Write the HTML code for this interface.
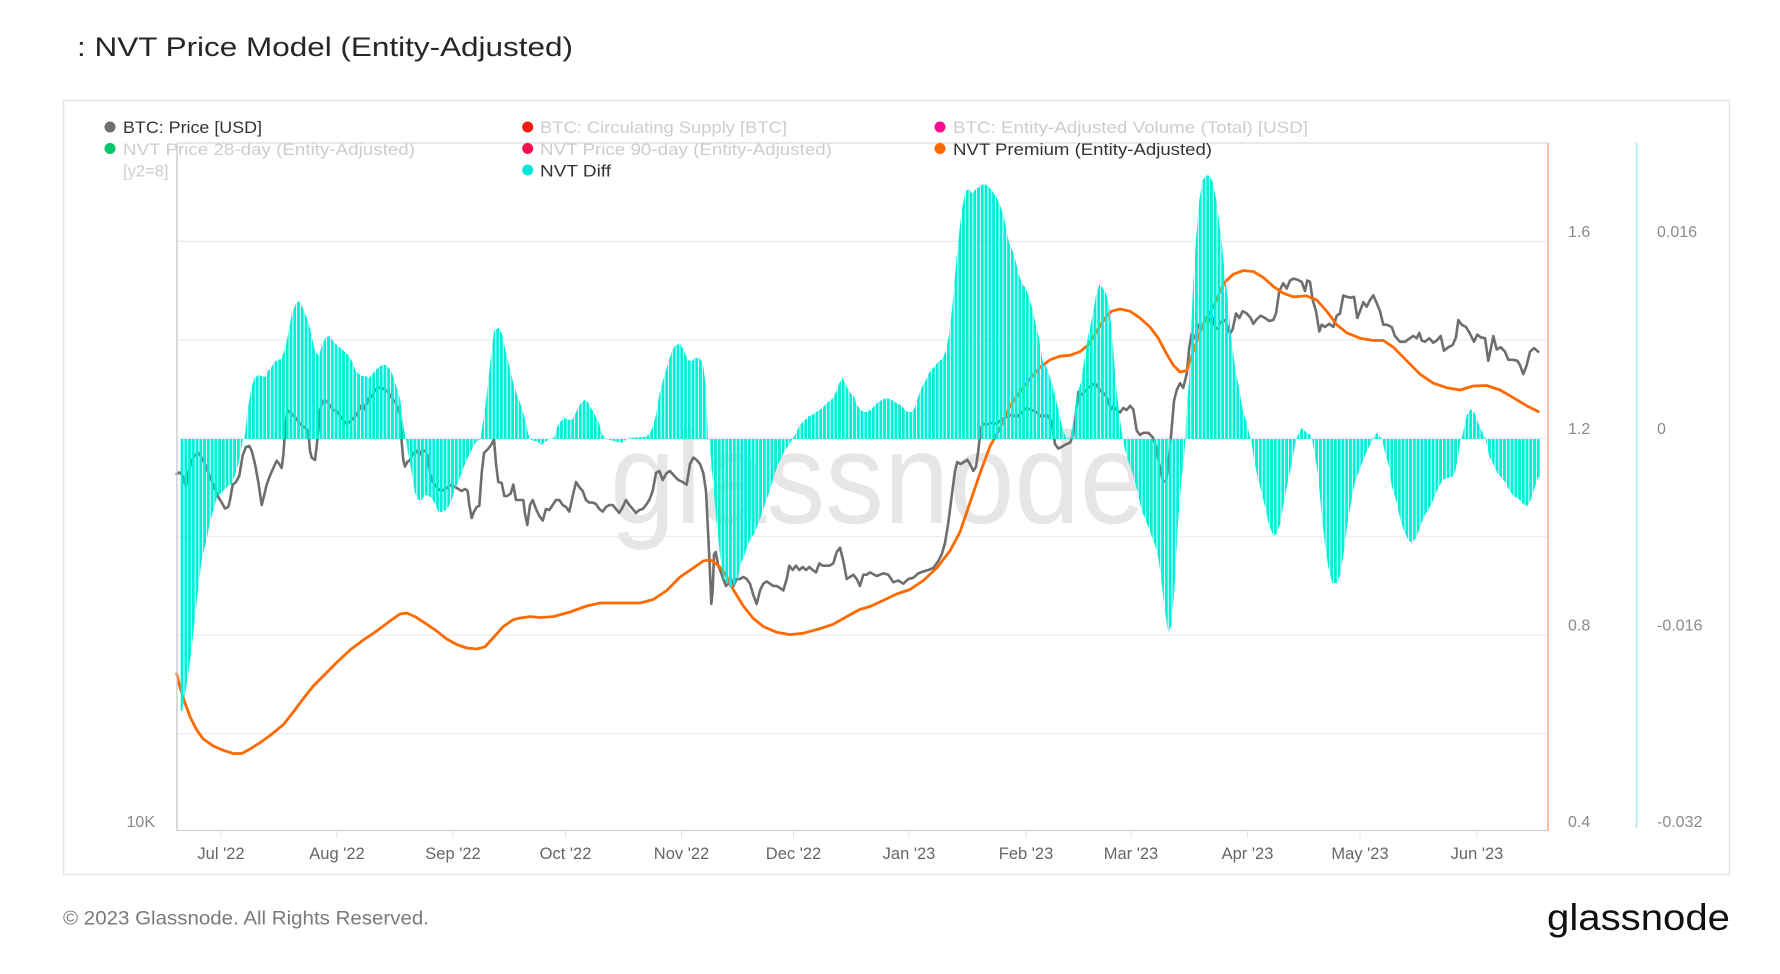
<!DOCTYPE html>
<html>
<head>
<meta charset="utf-8">
<style>
html,body{margin:0;padding:0;background:#fff;}
svg{display:block;}
text{font-family:"Liberation Sans",sans-serif;}
</style>
</head>
<body>
<svg width="1780" height="974" viewBox="0 0 1780 974" xmlns="http://www.w3.org/2000/svg">
<defs>
<pattern id="bp" patternUnits="userSpaceOnUse" x="180.6" y="0" width="3.757" height="974">
<rect x="0" y="0" width="2.85" height="974" fill="#00efd7"/>
</pattern>
</defs>
<rect x="0" y="0" width="1780" height="974" fill="#fff"/>

<!-- title -->
<text x="77" y="56" font-size="27" fill="#262626" textLength="496" lengthAdjust="spacingAndGlyphs">: NVT Price Model (Entity-Adjusted)</text>

<!-- frame -->
<rect x="63.5" y="100.5" width="1666" height="774" fill="none" stroke="#e4e4e4" stroke-width="1.5"/>

<!-- watermark -->
<text x="610" y="523" font-size="130" fill="#e6e6e6" textLength="535" lengthAdjust="spacingAndGlyphs">glassnode</text>

<!-- gridlines -->
<g stroke="#ececec" stroke-width="1.2">
<line x1="177" y1="241.4" x2="1547" y2="241.4"/>
<line x1="177" y1="339.9" x2="1547" y2="339.9"/>
<line x1="177" y1="438.3" x2="1547" y2="438.3"/>
<line x1="177" y1="536.7" x2="1547" y2="536.7"/>
<line x1="177" y1="635.1" x2="1547" y2="635.1"/>
<line x1="177" y1="733.6" x2="1547" y2="733.6"/>
</g>
<line x1="177" y1="143" x2="1548" y2="143" stroke="#dcdcdc" stroke-width="1.2"/>

<!-- price line -->
<polyline fill="none" stroke="#6e6e6e" stroke-width="2.6" stroke-linejoin="round" stroke-linecap="round" points="176.7,474 179.3,472.4 182.7,475.6 186,487 188.3,473 191.7,460.7 195,455 198.3,453 201.7,457.6 205,464 208.3,473 211.7,481 215,489 218.3,496.8 221.7,502.6 225,508.5 228.3,507 230,500 232.7,484.6 236,482 239.3,475.6 242.7,455.3 246,447 249.3,446 251.7,450.8 255,464 258.3,482 261.7,505 264,496 266.7,484.6 270,475.6 273.3,468 276.7,460.7 279.3,464 281.7,468 283.3,455.3 285,432.8 287.3,410 290,412.5 295,417 300,423.8 305,428 308.3,430.5 310,450.8 311.7,457.6 315,460 316.7,446 320,410 322.7,401 326.7,401 330,405.8 333.3,410 336.7,411 340,415.7 343.3,420 346.7,423.8 350,421.5 353.3,418.4 356.7,414.8 360,408 362.7,403.5 365,409.4 368.3,399 371.7,396.8 375,390 378.3,387.7 381.7,387.7 385,390 388.3,392 391.7,397.7 395,402 397.7,408 400,414.8 401.7,441.8 403.3,460 405,466.6 407.3,462 410,460 413.3,453 416.7,450.8 419.3,455.3 421.7,450.8 425,450.8 427.3,455.3 430,473 432.7,482 435,484.6 438.3,489 441.7,491 445,489 448.3,487 451.7,484.6 455,487 458.3,489 461.7,491 465,489 467.7,491 469.3,505 471.7,518 474,511.6 476.7,507 479.3,505.8 481.7,473 484,453 488.3,448.6 491.7,444 494,439.5 496,464 498.3,482 501.7,483 504.3,496 507.3,496 510.7,493.6 513.3,484.6 516,500 519.3,500 523.3,500 525,514 527.3,525 530,505 532.7,500 536,509 539.3,516 542.7,520.6 546,509 549.3,510 552.7,505 556,500 559.3,500 562.7,505 566,507 569.3,511.6 572.7,496 576,482 579.3,487 582.7,491 586,500 589.3,502.6 592.7,502.6 596,504 599.3,509 602.7,511.6 606,507 609.3,505 612.7,505 616,509 619.3,513 622.7,507 626,500 629.3,505 632.7,509 636,513 639.3,510 642.7,509 646,505 649.3,500 652.7,491 656,473 659.3,471 662.7,480 666.7,473 670,471 674,475.6 678.3,480 682.7,482 686.7,484.6 690,464 693.3,457.6 696.7,460 700,464 703.3,473 706,491 708.3,536.4 710,572.4 711.3,604 712.7,590.5 714,554.4 715.7,552 718.3,565.7 721,572.4 723.3,579 726,586 728.3,583.7 731,579 733.3,586 736.7,579 740,579 743.3,577 746.7,579 750,583.7 753.3,595 756.7,604 760,590.5 763.3,583.7 766.7,581.4 770,583.7 773.3,586 776.7,586 780,588 783.3,590.5 786.7,579 789.3,565.7 792.7,570 796,565.7 799.3,570 802.7,567 806,570 809.3,567 812.7,570 816,572.4 819.3,563.4 822.7,565.7 826,565.7 829.3,565.7 833.3,563.4 836.7,552 840,547.7 843.3,561 846.7,579 850,577 853.3,574.7 856.7,579 860,586 863.3,574.7 866.7,574.7 870,572.4 876.7,576 883.3,573.3 888.3,574.7 893.3,582.3 898.3,580.5 903.3,583.7 908.3,579 913.3,577.8 918.3,573.3 923.3,571.5 928.3,570 933.3,568 938.3,561 941.7,554.4 945,543 948.3,523 951.7,496 955,471 957.3,462 960.7,464 964,462 967.3,459.8 970,464 973.3,471 976,466.6 978.3,450.8 980.7,428 983.3,423.8 986.7,424.7 991.7,423 996.7,423.8 1001.7,419.3 1006.7,417 1011.7,414.8 1016.7,417 1021.7,412.5 1026.7,408 1031.7,410 1036.7,412.5 1041.7,417 1046.7,414.8 1051.7,421.5 1055,444 1058.3,448.6 1062.7,446.3 1066.7,444 1070,442.7 1073.3,435 1076,412.5 1078.3,392 1081.7,394.5 1085,391.4 1088.3,387.7 1091.7,385.5 1095,383.2 1098.3,387.7 1101.7,392 1105,394.5 1108.3,401 1110.7,410 1113.3,405.8 1116.7,410 1120,412.5 1123.3,408 1126.7,410 1130,405.8 1133.3,409.4 1136.7,430.5 1140,435 1143.3,432.8 1148.3,432.8 1152.7,437.3 1156,446.3 1159.3,464.3 1162.7,480 1166,482.3 1169.3,455.3 1171.7,428 1174,401 1176.7,390 1180,383.2 1183.3,387.7 1186.7,374 1189.3,347.2 1191.7,333.7 1195,338.2 1198.3,324.7 1201.7,329.2 1205,318 1208.3,322.4 1211.7,315.7 1215,327 1218.3,329.2 1220,322.4 1225,320 1230,333.7 1232.7,329.2 1236,313.4 1239.3,318 1242.7,311.2 1246.7,313.4 1250.7,318 1253.3,323.8 1256.7,319.3 1260.7,315.7 1265,318 1269.3,321 1273.3,320 1276,313.4 1279.3,291 1283.3,283.2 1286.7,288.6 1290,280.5 1293.3,278.7 1297.3,279.6 1301.7,281.9 1305,291 1307.3,280.5 1310,281.9 1312.7,300 1316,311.2 1319.3,331.4 1321.7,324.7 1325,327 1329.3,323.8 1333.3,327 1336.7,315.7 1340,313.4 1343.3,295.4 1346.7,296.8 1350.7,297.7 1354,296.8 1357.3,318 1360,311.2 1363.3,302.2 1366.7,306.7 1370,300 1373.3,295.4 1376.7,303 1380,311.2 1383.3,324.7 1386.7,324.7 1391.7,327 1395,336 1400,341.8 1405,341.8 1410,338.2 1413.3,336 1416.7,338.2 1419.3,332.8 1421.7,340.5 1425,341.8 1429.3,338.2 1433.3,342.7 1436.7,340.5 1440.7,336 1444,350.8 1448.3,347.2 1452.7,345 1456,337.3 1458.3,320 1461.7,324.7 1466,327 1470,333.7 1474,341.8 1477.3,334.6 1480.7,337.3 1485,338.2 1488.3,360.7 1490.7,349.5 1493.3,336 1496.7,349.5 1500.7,347.2 1505,351.7 1508.3,359.8 1512.7,359.8 1517.3,360.7 1520,365.2 1523.3,374.2 1526.7,365.2 1530,351.7 1534,348.1 1538.3,351.7"/>

<!-- NVT premium line -->
<polyline fill="none" stroke="#ff6a00" stroke-width="2.8" stroke-linejoin="round" stroke-linecap="round" points="176.7,673.8 180,687.3 185,703 190,716.6 196.7,730 203.3,739 213.3,746 223.3,750.3 233.3,753.5 241.7,753.5 250,749 260,742.7 270,735.5 283.3,724.7 293.3,712 303.3,698.6 313.3,686 323.3,676 336.7,662.5 350,650 363.3,640 376.7,631 390,621 400,614 406.7,613 415,616.6 426.7,624.2 436.7,631 446.7,639 456.7,644.5 466.7,648 476.7,649 485,646.8 493.3,637.7 503.3,626.5 513.3,619.7 520,618 530,616.6 540,617.5 553.3,616.6 570,612 586.7,606 600,603 620,603 640,603 653.3,599.5 666.7,590.5 680,577 693.3,568 703.3,561 710,559.8 716.7,564 725,573 733.3,589.6 743.3,606 753.3,618.4 763.3,626.5 776.7,632.3 790,634.6 803.3,633.2 820,628.7 833.3,624.2 846.7,616.6 860,609.4 870,606.5 883.3,600.4 896.7,594 910,589.5 923.3,580.5 936.7,568 950,550.8 960,532 970,502.6 980,473.3 990,446.3 1000,428.3 1010,405.8 1020,392 1030,378.7 1040,367.5 1050,359.8 1060,356.2 1070,355.3 1080,351.7 1088.3,345 1096.7,331.4 1105,318 1111.7,311.2 1120,309 1130,311.2 1140,318 1150,327 1158.3,338.2 1166.7,354 1173.3,365.2 1180,372 1186.7,370.6 1193.3,351.7 1200,331.4 1206.7,318 1213.3,306.7 1220,292 1225,282 1233.3,274.2 1243.3,270.6 1253.3,271.5 1263.3,277.4 1273.3,286.4 1283.3,293.2 1293.3,296.8 1306.7,295.9 1316.7,300 1326.7,311.2 1336.7,324.7 1346.7,332.8 1360,338.2 1373.3,340.5 1383.3,340.5 1393.3,347.2 1406.7,360.7 1420,374.2 1433.3,383.2 1446.7,387.7 1460,390 1473.3,386 1486.7,385.5 1500,390 1513.3,397.7 1526.7,405.8 1538.3,411.6"/>

<!-- NVT diff bars (envelope filled with bar pattern) -->
<path fill="url(#bp)" d="M180.6,439 L180.6,711 L182,711 L185.3,693 L188.3,675 L191.7,648 L195,617 L198.3,588 L201.7,560 L207,538 L210.3,520 L214.3,507 L217.7,495 L221.7,493 L225,489 L228.3,486 L231.7,484 L235,475 L238.3,464 L241,450 L243,439 L245,434.5 L247.7,409 L251,391 L254.3,378 L258.3,375 L261.7,376 L265,377 L267.7,371 L271,368 L274.3,362 L277.7,360 L281,359 L285,349 L288.3,333 L291.7,314 L295.7,304 L299,301 L302.3,307 L305.7,315 L309,324 L311,333 L315,351 L319,356 L322.3,344 L325.7,338 L329,336 L332.3,340 L335.7,344 L339,347 L342.3,349 L345.7,353 L349,356 L352.3,362 L355.7,371 L359,374 L362.3,376 L365.7,376 L369,378 L372.3,374 L375.7,370 L379,367 L382.3,365 L385.7,365 L389,368 L392.3,374 L396.3,386 L400.3,400 L403.7,428 L406,439 L408.3,455 L411.7,473 L415,493 L418.3,500 L421.7,500 L425,495 L428.3,496 L431.7,498 L435,504 L438.3,512 L441.7,512 L445,511 L448.3,507 L451.7,500 L455,489 L458.3,482 L461.7,473 L465,464 L468.3,457 L471.7,450 L475,443.5 L480,439 L484,416.5 L487.3,389 L490.7,359 L494,331 L498.3,328 L501.7,333 L505.7,351 L510,369 L513.3,383 L516.7,394 L521.3,406 L525,419 L528.3,434.5 L531,440 L537.7,442 L541.7,445 L545,442 L550,439 L554.3,437.6 L557.7,425.5 L561,421 L564.3,418 L569.3,420 L572.7,419 L576,412 L580.3,404 L584.3,400 L587.7,402 L591.7,409 L595,415 L599,423 L602.3,434.5 L606.3,439 L616.7,442 L621.7,442.6 L626.7,439 L633.3,437.6 L645,436.7 L649,434.5 L652.3,428 L655.7,416.5 L659,396 L662.3,383 L665.7,371 L669,360 L672.3,350 L675.7,345 L680.3,344 L683.7,350 L687.7,360 L691.7,361 L695,358 L699,358 L702.7,362 L706,387 L708,439 L709.3,441 L713.7,489 L717,527 L720.3,558 L723.7,579 L727,583 L730.3,588 L734.3,585 L737.7,579 L741,563 L744.3,556 L747.7,545 L751,538 L754.3,534 L757.7,525 L761,516 L765,504 L768.3,495 L771.7,484 L775,473 L778.3,464 L781.7,457 L785,450 L788.3,446 L791.7,440.4 L795,434.5 L798.3,428 L801.7,423 L805,420 L808.3,416.5 L811.7,415 L815,413 L819.3,410 L822.7,407.5 L826,404 L829.3,401 L832.7,398.5 L836,392 L839.3,383 L842.7,378 L846,385 L849.3,392 L853.7,396 L857,405 L860.3,410 L864.3,412 L867.7,412 L871.7,409 L875,405 L878.3,402 L881.7,400 L885,398.5 L888.3,398.5 L891.7,400 L895,402 L898.3,404 L901.7,406 L905,410 L908.3,412 L911.7,412 L915,407.5 L918.3,396 L922.3,386 L925.7,380.4 L929,373 L932.3,369 L935.7,365 L939,361 L942.3,359 L945.7,351 L949,335.4 L952.3,306 L955.7,268 L959,234 L962.3,207 L965.7,191 L969,189 L972.3,193.5 L975.7,189 L979,187 L982.3,184.5 L985.7,184.5 L989,187 L992.3,191 L995.7,196 L999,202.5 L1002.3,211.5 L1005.7,225 L1009,243 L1012.3,250 L1015.7,261 L1019,275 L1022.3,284 L1025.7,288 L1029,297 L1032.3,308.4 L1035.7,324 L1039,338 L1042.3,360 L1045.7,365 L1049,374 L1052.3,385 L1055.7,398.5 L1059,412 L1062.3,428 L1065.7,437 L1069,439 L1072.3,428 L1076.7,396 L1080.7,383 L1085,356 L1088.3,334 L1091.7,320 L1095.7,297 L1099.3,284 L1102.7,288 L1106,293 L1109.3,306 L1112.7,342 L1116,385 L1119.3,414 L1122.7,439 L1125,450 L1128.3,461.5 L1131.7,470.5 L1135,482 L1138.3,495 L1141.7,511 L1145,518 L1148.3,527 L1151.7,536 L1155,545 L1158.3,558 L1161.7,583 L1165,612 L1168.3,633 L1171.7,624 L1175,581 L1178.3,518 L1181.7,477 L1184,459 L1185.3,439 L1186.5,410 L1189.3,378 L1192.7,293 L1196,239 L1199.3,200 L1202.7,180 L1206,175.5 L1209.3,175.5 L1212.7,182 L1216,198 L1219.3,225 L1221,235 L1223.3,259 L1227.3,295 L1230.7,333 L1235,367 L1239.3,389.5 L1242.7,410 L1246.7,422.3 L1249.3,434.5 L1251,439 L1253.3,455 L1256.7,473 L1260.7,489 L1265,506.6 L1268.3,522 L1272.3,533.6 L1276,535 L1280,524.6 L1284,502 L1287.7,482.7 L1291.7,463.8 L1295,445.8 L1296.5,439 L1298.3,434.5 L1301.7,428 L1306,432.2 L1310,434.5 L1312,439 L1314,450 L1318.3,477 L1321.7,515.6 L1325,545 L1328.3,567 L1332.3,583 L1336.7,583 L1340,576 L1344,551.6 L1347.3,524.6 L1351.7,499.8 L1355,482 L1359.3,470.5 L1363.3,460 L1367.3,450 L1371.7,442 L1374,437 L1376.7,433 L1380.7,437.6 L1382,439 L1385,452.5 L1389.3,468 L1391.7,486 L1396,500 L1400,518 L1404,531 L1408.3,540 L1411.7,542.6 L1416,538 L1419.3,529 L1423.3,518 L1427.3,511 L1431.7,504 L1435,495 L1439.3,486 L1443.3,479.5 L1447.3,478 L1451.7,477 L1455,473 L1458.3,455 L1460.5,439 L1462.7,434.5 L1466.7,415 L1470.7,409 L1475,414 L1478.3,423 L1482.3,432 L1485.7,439 L1489.3,457 L1493.3,464 L1497.3,473 L1501,477 L1505,482 L1508.3,488.5 L1512.7,495 L1516,497.6 L1520,500 L1523.3,504 L1526.7,506.6 L1530.7,500 L1534,490 L1538.3,477 L1539.8,477 L1539.8,439 Z"/>

<!-- axes -->
<line x1="177" y1="143" x2="177" y2="831" stroke="#c6c6c6" stroke-width="1.3"/>
<line x1="177" y1="830.5" x2="1548" y2="830.5" stroke="#d2d2d2" stroke-width="1.3"/>
<line x1="1548" y1="143" x2="1548" y2="831" stroke="#ffa88a" stroke-width="1.5"/>
<line x1="1636.5" y1="143" x2="1636.5" y2="828" stroke="#9ff3ec" stroke-width="1.5"/>
<g stroke="#e2e2e2" stroke-width="1">
<line x1="221" y1="831" x2="221" y2="838"/>
<line x1="337" y1="831" x2="337" y2="838"/>
<line x1="453" y1="831" x2="453" y2="838"/>
<line x1="565.5" y1="831" x2="565.5" y2="838"/>
<line x1="681.5" y1="831" x2="681.5" y2="838"/>
<line x1="793.5" y1="831" x2="793.5" y2="838"/>
<line x1="909" y1="831" x2="909" y2="838"/>
<line x1="1026" y1="831" x2="1026" y2="838"/>
<line x1="1131" y1="831" x2="1131" y2="838"/>
<line x1="1247.5" y1="831" x2="1247.5" y2="838"/>
<line x1="1360" y1="831" x2="1360" y2="838"/>
<line x1="1477" y1="831" x2="1477" y2="838"/>
</g>

<!-- x labels -->
<g font-size="16.5" fill="#666" text-anchor="middle">
<text x="221" y="859">Jul '22</text>
<text x="337" y="859">Aug '22</text>
<text x="453" y="859">Sep '22</text>
<text x="565.5" y="859">Oct '22</text>
<text x="681.5" y="859">Nov '22</text>
<text x="793.5" y="859">Dec '22</text>
<text x="909" y="859">Jan '23</text>
<text x="1026" y="859">Feb '23</text>
<text x="1131" y="859">Mar '23</text>
<text x="1247.5" y="859">Apr '23</text>
<text x="1360" y="859">May '23</text>
<text x="1477" y="859">Jun '23</text>
</g>

<!-- y labels -->
<text x="155" y="827" font-size="16" fill="#888" text-anchor="end">10K</text>
<g font-size="16" fill="#8a8a8a">
<text x="1568" y="237">1.6</text>
<text x="1568" y="434">1.2</text>
<text x="1568" y="630.5">0.8</text>
<text x="1568" y="827">0.4</text>
<text x="1657" y="237">0.016</text>
<text x="1657" y="434">0</text>
<text x="1657" y="630.5">-0.016</text>
<text x="1657" y="827">-0.032</text>
</g>

<!-- legend -->
<g font-size="16.5">
<circle cx="110" cy="127" r="5.5" fill="#6f6f6f"/>
<text x="123" y="133" fill="#333" textLength="139" lengthAdjust="spacingAndGlyphs">BTC: Price [USD]</text>
<circle cx="110" cy="148.5" r="5.5" fill="#00c46a"/>
<text x="123" y="155" fill="#cdcdcd" textLength="292" lengthAdjust="spacingAndGlyphs">NVT Price 28-day (Entity-Adjusted)</text>
<text x="123" y="176.5" fill="#cdcdcd">[y2=8]</text>

<circle cx="527.7" cy="127" r="5.5" fill="#f01a10"/>
<text x="540" y="133" fill="#cdcdcd" textLength="247" lengthAdjust="spacingAndGlyphs">BTC: Circulating Supply [BTC]</text>
<circle cx="527.7" cy="148.5" r="5.5" fill="#f5104f"/>
<text x="540" y="155" fill="#cdcdcd" textLength="292" lengthAdjust="spacingAndGlyphs">NVT Price 90-day (Entity-Adjusted)</text>
<circle cx="527.7" cy="170" r="5.5" fill="#00e8d5"/>
<text x="540" y="176.5" fill="#333" textLength="71" lengthAdjust="spacingAndGlyphs">NVT Diff</text>

<circle cx="940" cy="127" r="5.5" fill="#ff0a8c"/>
<text x="953" y="133" fill="#cdcdcd" textLength="355" lengthAdjust="spacingAndGlyphs">BTC: Entity-Adjusted Volume (Total) [USD]</text>
<circle cx="940" cy="148.5" r="5.5" fill="#ff6a00"/>
<text x="953" y="155" fill="#333" textLength="259" lengthAdjust="spacingAndGlyphs">NVT Premium (Entity-Adjusted)</text>
</g>

<!-- footer -->
<text x="63" y="924.5" font-size="19.5" fill="#7a7a7a" textLength="366" lengthAdjust="spacingAndGlyphs">© 2023 Glassnode. All Rights Reserved.</text>
<text x="1547" y="930" font-size="37" fill="#111" textLength="183" lengthAdjust="spacingAndGlyphs">glassnode</text>
</svg>
</body>
</html>
